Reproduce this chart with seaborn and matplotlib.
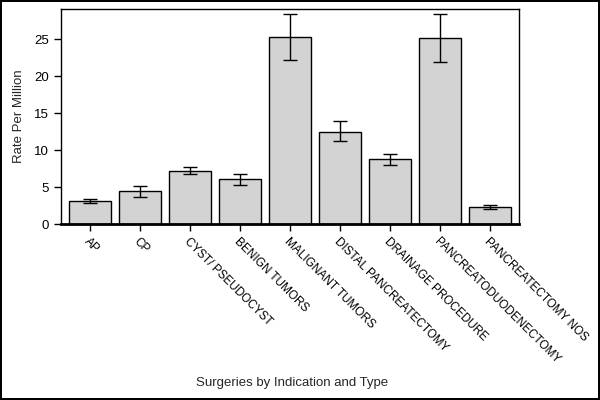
import matplotlib
matplotlib.use("Agg")
import matplotlib.pyplot as plt
import seaborn as sns
import numpy as np
import pandas as pd

categories = ["AP", "CP", "CYST/ PSEUDOCYST", "BENIGN TUMORS", "MALIGNANT TUMORS",
              "DISTAL PANCREATECTOMY", "DRAINAGE PROCEDURE",
              "PANCREATODUODENECTOMY", "PANCREATECTOMY NOS"]
rates = [3.12, 4.48, 7.2, 6.11, 25.27, 12.5, 8.83, 25.13, 2.31]
lower = [2.9, 3.67, 6.7, 5.34, 22.15, 11.28, 8.02, 21.87, 2.04]
upper = [3.4, 5.16, 7.74, 6.79, 28.4, 13.86, 9.51, 28.4, 2.58]

sns.set_style("white")
plt.rcParams['font.family'] = ['Liberation Sans', 'DejaVu Sans']

df = pd.DataFrame({"cat": categories, "rate": rates})

fig = plt.figure(figsize=(6, 4), dpi=100)
fig.patch.set_edgecolor("black")
fig.patch.set_linewidth(1.5)
ax = fig.add_axes([61/600, 1-224/400, (519-61)/600, (224-9)/400])

sns.barplot(data=df, x="cat", y="rate", color="#D3D3D3", edgecolor="black",
            linewidth=1, width=0.84, saturation=1, errorbar=None, ax=ax)

x = np.arange(len(categories))
r = np.array(rates)
yerr = np.vstack([r - np.array(lower), np.array(upper) - r])
ax.errorbar(x, r, yerr=yerr, fmt="none", ecolor="black", elinewidth=1,
            capsize=5, capthick=1)

ax.set_xlim(-0.58, len(categories) - 1 + 0.58)
ax.set_ylim(0, 29.07)
ax.set_yticks([0, 5, 10, 15, 20, 25])
ax.tick_params(axis="both", direction="out", length=5, width=1, labelsize=8.5,
               colors="black", bottom=True, left=True)
ax.tick_params(axis="y", labelsize=9.5)
ax.set_xticks(x)
ax.set_xticklabels(categories, rotation=-45, ha="left", rotation_mode="anchor")
for s in ax.spines.values():
    s.set_color("black")
    s.set_linewidth(1)
ax.spines["bottom"].set_linewidth(2)
ax.set_ylabel("Rate Per Million", fontsize=9.5, labelpad=7)
ax.set_xlabel("")
fig.text(292/600, 1-383/400, "Surgeries by Indication and Type", ha="center",
         va="center", fontsize=9.5)

fig.savefig("out.png", dpi=100)
